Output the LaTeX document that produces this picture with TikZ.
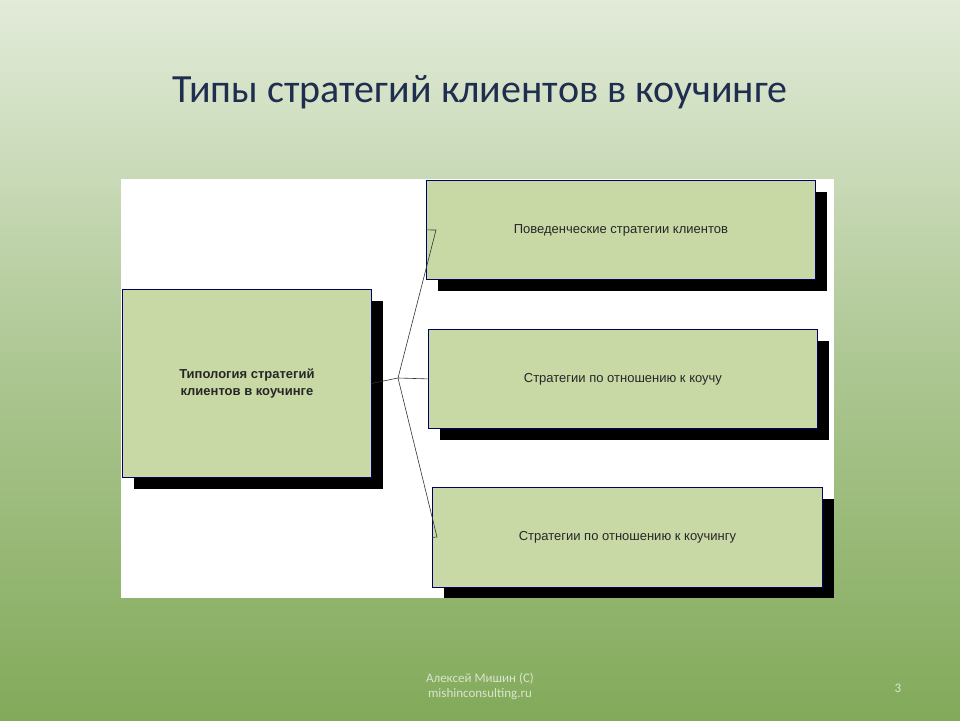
\documentclass[tikz,border=0pt]{standalone}
\usepackage{fontspec}
\setmainfont{Carlito}
\newfontfamily\arialf{Liberation Sans}
\begin{document}
\begin{tikzpicture}[x=1pt,y=-1pt,
  bx/.style={draw=blue!40!black, line width=0.8pt, fill=boxc},
  sh/.style={fill=black},
  lab/.style={font=\arialf\fontsize{13}{16}\selectfont, text=black!85, align=center},
  ln/.style={draw=black!80, line width=0.6pt}]
\definecolor{boxc}{HTML}{C9D9A6}
\definecolor{topc}{HTML}{E2EBD9}
\definecolor{botc}{HTML}{82AA5A}
\definecolor{titc}{HTML}{1F2D4F}
\useasboundingbox (0,0) rectangle (960,720);
\shade[top color=topc, bottom color=botc, middle color=botc!55!topc] (0,0) rectangle (960,720);
\node[text=titc, font=\fontsize{40}{48}\selectfont] (title) at (480,92) {Типы стратегий клиентов в коучинге};
\fill[white] (121,179) rectangle (834,598);
% shadows
\fill[sh] (134,301) rectangle (383,489);
\fill[sh] (438,192) rectangle (827,291);
\fill[sh] (440,341) rectangle (829,440);
\fill[sh] (444,499) rectangle (834,598);
% boxes
\node[bx, minimum width=249, minimum height=188, inner sep=0, anchor=north west] (L) at (122,289) {};
\node[lab, font=\arialf\bfseries\fontsize{13}{17}\selectfont] at (L.center) {Типология стратегий\\клиентов в коучинге};
\node[bx, minimum width=389, minimum height=99, inner sep=0, anchor=north west] (b1) at (426,180) {};
\node[lab] at (b1.center) {Поведенческие стратегии клиентов};
\node[bx, minimum width=389, minimum height=99, inner sep=0, anchor=north west] (b2) at (428,329) {};
\node[lab] at (b2.center) {Стратегии по отношению к коучу};
\node[bx, minimum width=390, minimum height=100, inner sep=0, anchor=north west] (b3) at (432,487) {};
\node[lab] at (b3.center) {Стратегии по отношению к коучингу};
% connectors
\coordinate (j) at (398,378);
\coordinate (t1) at (436,230);
\coordinate (t3) at (437,537);
\draw[ln] (L.east) -- (j) -- (b2.west);
\draw[ln] (j) -- (t1) -- (b1.west);
\draw[ln] (j) -- (t3) -- (b3.west);
% footer
\node[text=white!70!botc, font=\fontsize{13}{15}\selectfont, align=center] (ft) at (480,686) {Алексей Мишин (С)\\mishinconsulting.ru};
\node[text=white!70!botc, font=\fontsize{13}{15}\selectfont] (pg) at (898,688) {3};
\end{tikzpicture}
\end{document}
